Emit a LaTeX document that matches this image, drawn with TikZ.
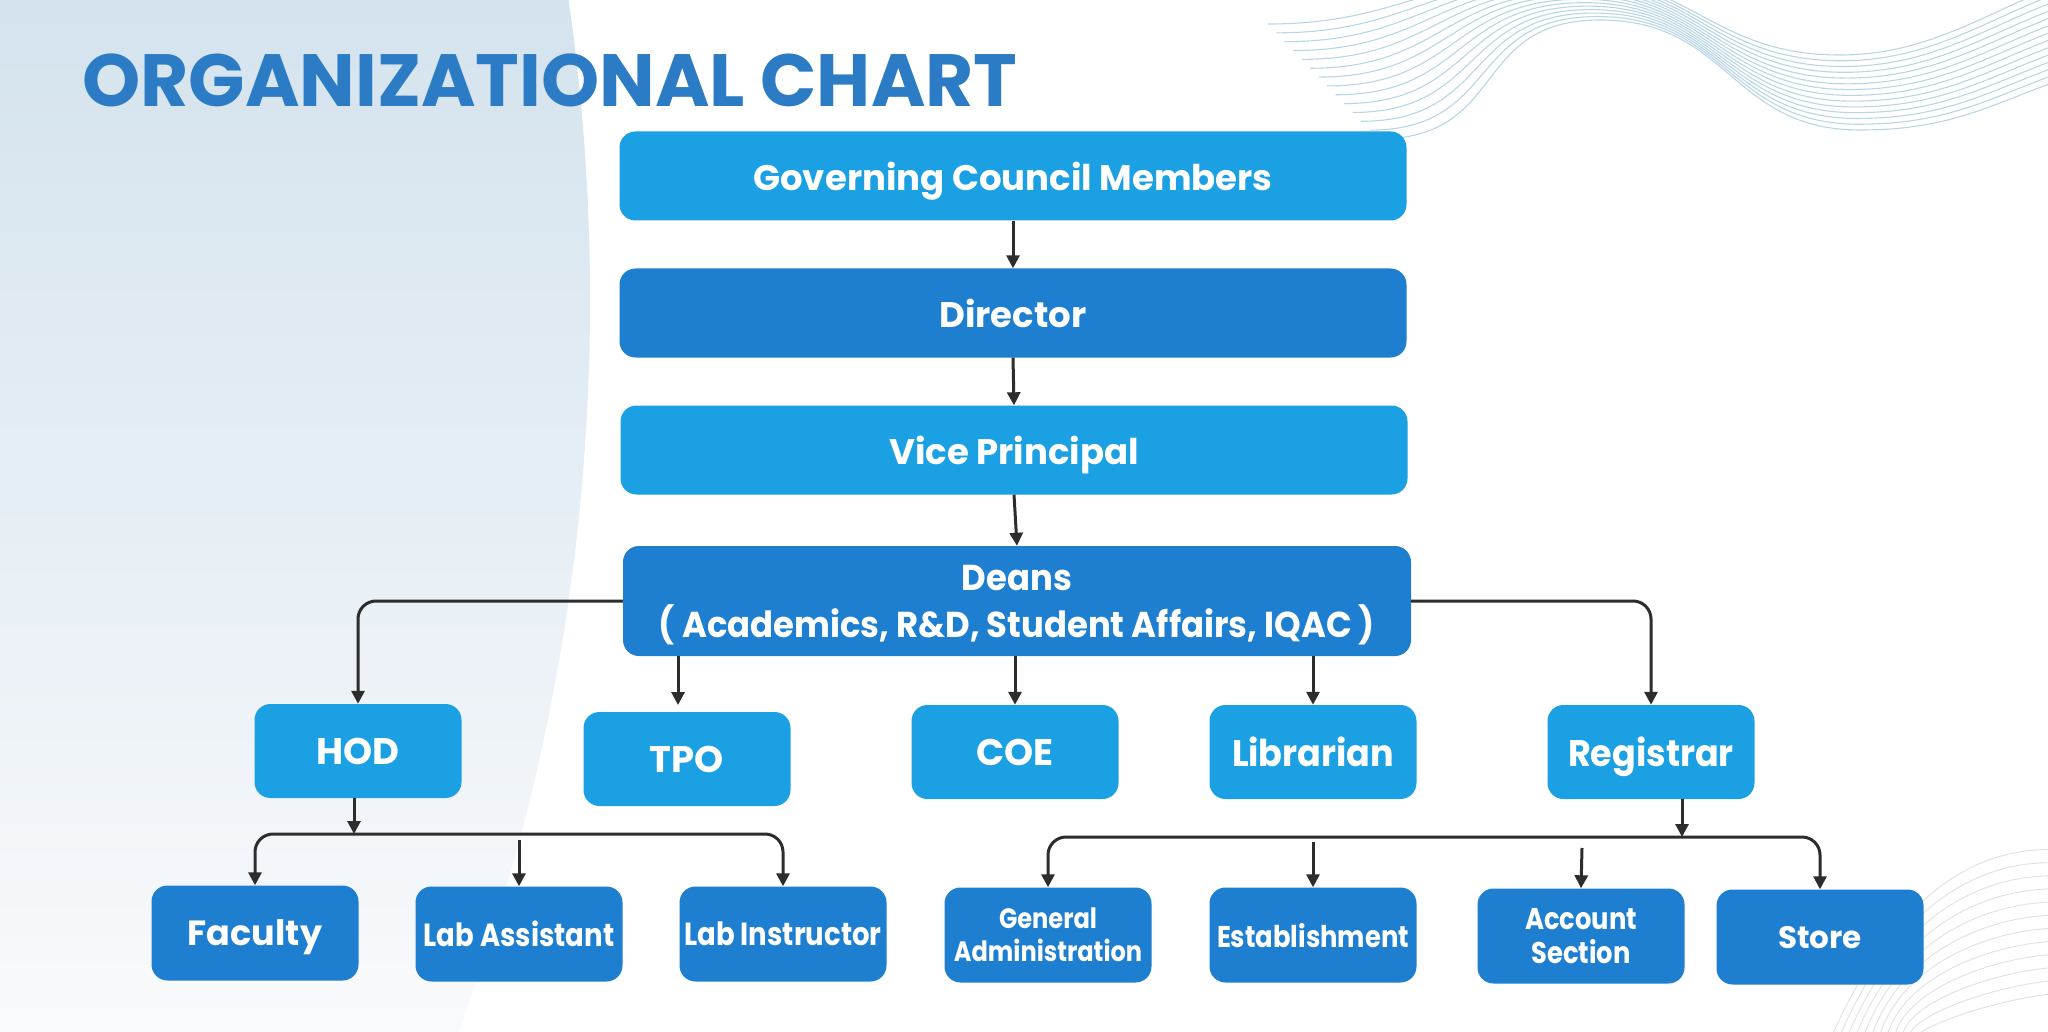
\documentclass[tikz,border=0pt]{standalone}
\usepackage{fontspec}
\setmainfont{Poppins}
\newfontfamily\cond[FakeStretch=0.86]{Poppins}
\newfontfamily\condd[FakeStretch=0.94]{Poppins}
\newfontfamily\condl[FakeStretch=0.945]{Poppins}
\usetikzlibrary{arrows.meta,calc}
\definecolor{lightbox}{RGB}{27,160,227}
\definecolor{darkbox}{RGB}{30,127,208}
\definecolor{titleblue}{RGB}{43,124,196}
\definecolor{arrowgray}{RGB}{45,45,45}
\definecolor{bgtop}{RGB}{212,227,238}
\definecolor{bgbot}{RGB}{249,250,252}
\definecolor{wave}{RGB}{186,214,230}
\definecolor{grayline}{RGB}{222,226,230}
\begin{document}
\begin{tikzpicture}[x=1pt,y=-1pt,
  box/.style={rectangle,rounded corners=16pt,text=white,font=\bfseries,align=center,inner sep=0pt,text depth=0pt},
  lbox/.style={box,fill=lightbox},
  dbox/.style={box,fill=darkbox},
  wide/.style={minimum width=787pt,minimum height=89pt},
  small/.style={minimum width=207pt,minimum height=94pt},
  arr/.style={draw=arrowgray,line width=3pt,-{Triangle[length=13pt,width=13pt]}},
  bus/.style={draw=arrowgray,line width=3pt,rounded corners=18pt,-{Triangle[length=13pt,width=13pt]}}]
\useasboundingbox (0,0) rectangle (2048,1032);
\fill[white] (0,0) rectangle (2048,1032);
% background wash
\begin{scope}
\clip (-1500,300) circle (2090pt);
\shade[top color=bgtop,bottom color=bgbot] (0,0) rectangle (700,1032);
\end{scope}
% waves top right
\begin{scope}
\clip (0,0) rectangle (2048,1032);
\foreach \i in {0,...,13}{
  \pgfmathsetmacro{\t}{\i/13}
  \pgfmathsetmacro{\sx}{1268+110*\t}
  \pgfmathsetmacro{\sy}{24+115*\t}
  \pgfmathsetmacro{\cx}{1560+40*\t}
  \pgfmathsetmacro{\cy}{-25+45*\t}
  \pgfmathsetmacro{\tx}{1840+20*\t}
  \pgfmathsetmacro{\ty}{55+75*\t}
  \pgfmathsetmacro{\ey}{-15+95*\t}
  \draw[wave,line width=1.1pt] (\sx,\sy) .. controls (\sx+130,\sy) and (\cx-130,\cy) .. (\cx,\cy)
     .. controls (\cx+130,\cy) and (\tx-130,\ty) .. (\tx,\ty)
     .. controls (\tx+90,\ty) and (1990,\ey+25) .. (2060,\ey);
}
\foreach \i in {0,...,11}{
  \draw[grayline,line width=0.9pt] (2060,850+13*\i) .. controls (1990,845+14*\i) and (1900,880+14*\i) .. (1830+8*\i,1040);
}
\end{scope}
% title
\node[anchor=base west,inner sep=0pt,text=titleblue,font=\fontsize{74}{74}\selectfont\bfseries] (title) at (82,107) {ORGANIZATIONAL CHART};
% top boxes
\node[lbox,wide,font=\fontsize{35.5}{40}\selectfont\bfseries] (gcm) at (1013,176) {Governing Council Members};
\node[dbox,wide,font=\fontsize{35.5}{40}\selectfont\bfseries] (dir) at (1013,313) {Director};
\node[lbox,wide,font=\fontsize{35.5}{40}\selectfont\bfseries] (vp) at (1014,450) {Vice Principal};
\node[dbox,minimum width=788pt,minimum height=110pt,font=\fontsize{36}{47}\selectfont\condd\bfseries] (deans) at (1017,601) {Deans\\( Academics, R\&D, Student Affairs, IQAC )};
% middle row
\node[lbox,small,font=\fontsize{37}{40}\selectfont\bfseries] (hod) at (358,751) {HOD};
\node[lbox,small,font=\fontsize{37}{40}\selectfont\bfseries] (tpo) at (687,759) {TPO};
\node[lbox,small,font=\fontsize{37}{40}\selectfont\bfseries] (coe) at (1015,752) {COE};
\node[lbox,small,font=\fontsize{37}{40}\selectfont\condl\bfseries] (lib) at (1313,752) {Librarian};
\node[lbox,small,font=\fontsize{37}{40}\selectfont\condl\bfseries] (reg) at (1651,752) {Registrar};
% bottom row
\node[dbox,small,minimum height=95pt,font=\fontsize{35}{38}\selectfont\bfseries] (fac) at (255,933) {Faculty};
\node[dbox,small,minimum height=95pt,font=\fontsize{32}{34}\selectfont\cond\bfseries] (las) at (519,934) {Lab Assistant};
\node[dbox,small,minimum height=95pt,font=\fontsize{32}{34}\selectfont\cond\bfseries] (lin) at (783,934) {Lab Instructor};
\node[dbox,small,minimum height=95pt,font=\fontsize{28}{33}\selectfont\cond\bfseries] (gen) at (1048,935) {General\\Administration};
\node[dbox,small,minimum height=95pt,font=\fontsize{30}{33}\selectfont\cond\bfseries] (est) at (1313,935) {Establishment};
\node[dbox,small,minimum height=95pt,font=\fontsize{30}{34}\selectfont\cond\bfseries] (acc) at (1581,936) {Account\\Section};
\node[dbox,small,minimum height=95pt,font=\fontsize{31}{36}\selectfont\bfseries] (sto) at (1820,937) {Store};
% connectors
\draw[arr] (gcm.south) -- (dir.north);
\draw[arr] (dir.south) -- (vp.north);
\draw[arr] (vp.south) -- (deans.north);
\draw[bus] (deans.west) -| (hod.north);
\draw[bus] (deans.east) -| (reg.north);
\coordinate (tpoend) at (678,705);
\draw[arr] (deans.south -| tpoend) -- (tpoend);
\draw[arr] (deans.south -| coe.north) -- (coe.north);
\draw[arr] (deans.south -| lib.north) -- (lib.north);
% HOD bus
\coordinate (hb) at (354,834);
\draw[arr] (hod.south -| hb) -- (hb);
\draw[bus] (hb) -| (fac.north);
\draw[bus] (hb) -| (lin.north);
\coordinate (lasstart) at (519,840);
\draw[arr] (lasstart) -- (las.north);
% Registrar bus
\coordinate (rb) at (1682,837);
\draw[arr] (reg.south -| rb) -- (rb);
\draw[bus] (rb) -| (gen.north);
\draw[bus] (rb) -| (sto.north);
\coordinate (eststart) at (1313,842);
\draw[arr] (eststart) -- (est.north);
\coordinate (accstart) at (1582,848);
\draw[arr] (accstart) -- (acc.north);
\end{tikzpicture}
\end{document}
